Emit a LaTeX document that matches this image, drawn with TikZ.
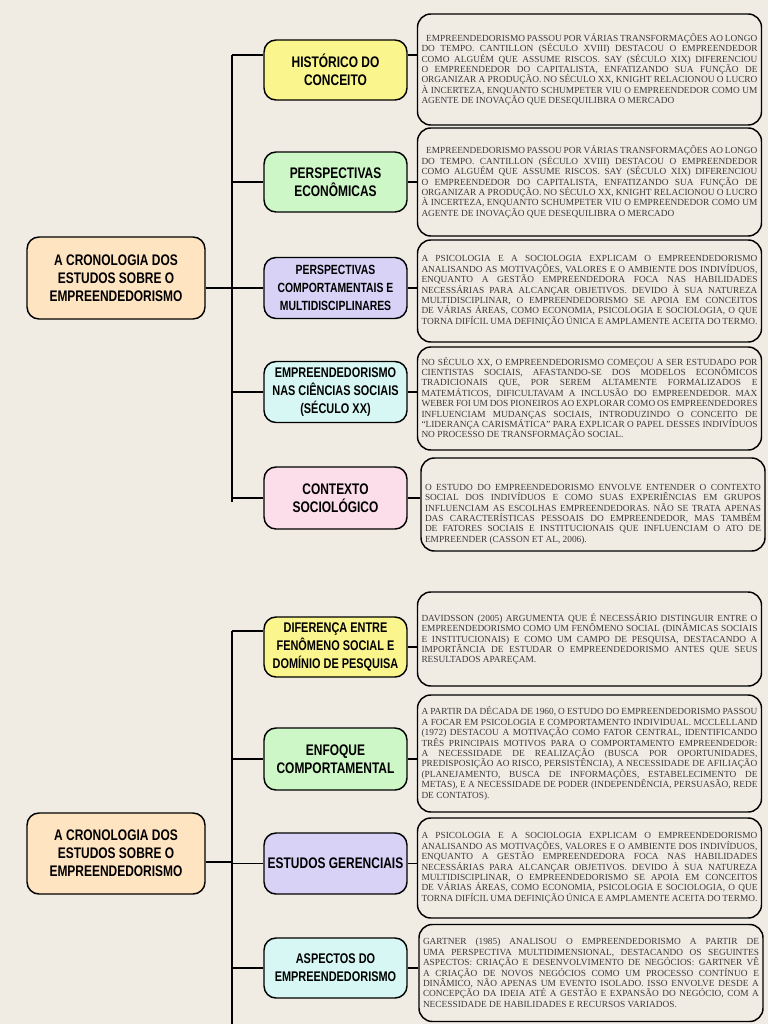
\documentclass[tikz,border=0pt]{standalone}
\usepackage{fontspec}
\setmainfont{Liberation Serif}
\newfontfamily\headfont[FakeStretch=0.78]{Liberation Sans}
\definecolor{bgc}{HTML}{F0ECE4}
\definecolor{cyel}{HTML}{FBF58E}
\definecolor{cgrn}{HTML}{CDF7C6}
\definecolor{clav}{HTML}{D9D2F7}
\definecolor{ccya}{HTML}{D6F7F3}
\definecolor{cpnk}{HTML}{FCDDEA}
\definecolor{cpch}{HTML}{FFE4C2}
\definecolor{txt}{HTML}{3A3A3A}
\tikzset{
 cat/.style={draw=black,line width=1.1pt,rounded corners=9pt,align=center,font=\headfont\bfseries\fontsize{11.5}{13.5}\selectfont,inner sep=2pt},
 tbox/.style={draw=black,line width=1.1pt,rounded corners=10pt,text width=252pt,align=justify,font=\fontsize{7}{7.8}\selectfont,text=txt,inner sep=3pt},
 conn/.style={line width=1.1pt}
}
\newcommand{\catbox}[6]{\node[cat,fill=#1,minimum width=#4*0.75pt,minimum height=#5*0.75pt] (#2) at (#3) {#6};}
\begin{document}
\hyphenpenalty=10000 \exhyphenpenalty=10000
\begin{tikzpicture}[x=0.75pt,y=-0.75pt]
\fill[bgc] (0,0) rectangle (768,1024);
\useasboundingbox (0,0) rectangle (768,1024);
% ---------- top
\catbox{cpch}{r1}{116,278}{178}{82}{A CRONOLOGIA DOS\\ESTUDOS SOBRE O\\EMPREENDEDORISMO}
\catbox{cyel}{a1}{335.5,70}{143}{60}{HISTÓRICO DO\\CONCEITO}
\catbox{cgrn}{a2}{335.5,182}{143}{60}{PERSPECTIVAS\\ECONÔMICAS}
\catbox{clav}{a3}{335.5,288}{143}{61}{\fontsize{10}{11.5}\selectfont PERSPECTIVAS\\\fontsize{10}{11.5}\selectfont COMPORTAMENTAIS E\\\fontsize{10}{11.5}\selectfont MULTIDISCIPLINARES}
\catbox{ccya}{a4}{335.5,392}{143}{61}{\fontsize{10.5}{12}\selectfont EMPREENDEDORISMO\\\fontsize{10.5}{12}\selectfont NAS CIÊNCIAS SOCIAIS\\\fontsize{10.5}{12}\selectfont (SÉCULO XX)}
\catbox{cpnk}{a5}{335.5,498}{143}{62}{CONTEXTO\\SOCIOLÓGICO}

\node[tbox,minimum height=111*0.75pt] (t1) at (589.5,69.5) {\hspace*{0.5em}EMPREENDEDORISMO PASSOU POR VÁRIAS TRANSFORMAÇÕES AO LONGO DO TEMPO. CANTILLON (SÉCULO XVIII) DESTACOU O EMPREENDEDOR COMO ALGUÉM QUE ASSUME RISCOS. SAY (SÉCULO XIX) DIFERENCIOU O EMPREENDEDOR DO CAPITALISTA, ENFATIZANDO SUA FUNÇÃO DE ORGANIZAR A PRODUÇÃO. NO SÉCULO XX, KNIGHT RELACIONOU O LUCRO À INCERTEZA, ENQUANTO SCHUMPETER VIU O EMPREENDEDOR COMO UM AGENTE DE INOVAÇÃO QUE DESEQUILIBRA O MERCADO};
\node[tbox,minimum height=108*0.75pt] (t2) at (589.5,182) {\hspace*{0.5em}EMPREENDEDORISMO PASSOU POR VÁRIAS TRANSFORMAÇÕES AO LONGO DO TEMPO. CANTILLON (SÉCULO XVIII) DESTACOU O EMPREENDEDOR COMO ALGUÉM QUE ASSUME RISCOS. SAY (SÉCULO XIX) DIFERENCIOU O EMPREENDEDOR DO CAPITALISTA, ENFATIZANDO SUA FUNÇÃO DE ORGANIZAR A PRODUÇÃO. NO SÉCULO XX, KNIGHT RELACIONOU O LUCRO À INCERTEZA, ENQUANTO SCHUMPETER VIU O EMPREENDEDOR COMO UM AGENTE DE INOVAÇÃO QUE DESEQUILIBRA O MERCADO};
\node[tbox,minimum height=102*0.75pt] (t3) at (589.5,291) {A PSICOLOGIA E A SOCIOLOGIA EXPLICAM O EMPREENDEDORISMO ANALISANDO AS MOTIVAÇÕES, VALORES E O AMBIENTE DOS INDIVÍDUOS, ENQUANTO A GESTÃO EMPREENDEDORA FOCA NAS HABILIDADES NECESSÁRIAS PARA ALCANÇAR OBJETIVOS. DEVIDO À SUA NATUREZA MULTIDISCIPLINAR, O EMPREENDEDORISMO SE APOIA EM CONCEITOS DE VÁRIAS ÁREAS, COMO ECONOMIA, PSICOLOGIA E SOCIOLOGIA, O QUE TORNA DIFÍCIL UMA DEFINIÇÃO ÚNICA E AMPLAMENTE ACEITA DO TERMO.};
\node[tbox,minimum height=103*0.75pt] (t4) at (589.5,398.5) {NO SÉCULO XX, O EMPREENDEDORISMO COMEÇOU A SER ESTUDADO POR CIENTISTAS SOCIAIS, AFASTANDO-SE DOS MODELOS ECONÔMICOS TRADICIONAIS QUE, POR SEREM ALTAMENTE FORMALIZADOS E MATEMÁTICOS, DIFICULTAVAM A INCLUSÃO DO EMPREENDEDOR. MAX WEBER FOI UM DOS PIONEIROS AO EXPLORAR COMO OS EMPREENDEDORES INFLUENCIAM MUDANÇAS SOCIAIS, INTRODUZINDO O CONCEITO DE “LIDERANÇA CARISMÁTICA” PARA EXPLICAR O PAPEL DESSES INDIVÍDUOS NO PROCESSO DE TRANSFORMAÇÃO SOCIAL.};
\node[tbox,minimum height=93*0.75pt,text depth=26pt] (t5) at (593,504.5) {O ESTUDO DO EMPREENDEDORISMO ENVOLVE ENTENDER O CONTEXTO SOCIAL DOS INDIVÍDUOS E COMO SUAS EXPERIÊNCIAS EM GRUPOS INFLUENCIAM AS ESCOLHAS EMPREENDEDORAS. NÃO SE TRATA APENAS DAS CARACTERÍSTICAS PESSOAIS DO EMPREENDEDOR, MAS TAMBÉM DE FATORES SOCIAIS E INSTITUCIONAIS QUE INFLUENCIAM O ATO DE EMPREENDER (CASSON ET AL, 2006).};

\coordinate (k1) at (232,55);
\coordinate (k5) at (232,502);
\draw[conn] (k1) -- (k5);
\draw[conn] (r1.east |- 0,288) -- (232,288);
\draw[conn] (k1) -- (a1.west |- k1);
\foreach \n in {a2,a3,a4,a5} \draw[conn] (232,0 |- \n.west) -- (\n.west);
\draw[conn] (a1.east |- 0,55) -- (t1.west |- 0,55);
\draw[conn] (a2.east) -- (t2.west |- a2.east);
\draw[conn] (a3.east) -- (t3.west |- a3.east);
\draw[conn] (a4.east) -- (t4.west |- a4.east);
\draw[conn] (a5.east) -- (t5.west |- a5.east);

% ---------- bottom
\catbox{cpch}{r2}{116,853.5}{178}{81}{A CRONOLOGIA DOS\\ESTUDOS SOBRE O\\EMPREENDEDORISMO}
\catbox{cyel}{b1}{335.5,647}{143}{60}{\fontsize{10.5}{12}\selectfont DIFERENÇA ENTRE\\\fontsize{10.5}{12}\selectfont FENÔMENO SOCIAL E\\\fontsize{10.5}{12}\selectfont DOMÍNIO DE PESQUISA}
\catbox{cgrn}{b2}{335.5,759}{143}{62}{ENFOQUE\\COMPORTAMENTAL}
\catbox{clav}{b3}{335.5,863.5}{143}{61}{ESTUDOS GERENCIAIS}
\catbox{ccya}{b4}{335.5,968}{143}{60}{\fontsize{10.5}{12}\selectfont ASPECTOS DO\\\fontsize{10.5}{12}\selectfont EMPREENDEDORISMO}

\node[tbox,minimum height=94*0.75pt] (u1) at (589.5,639) {DAVIDSSON (2005) ARGUMENTA QUE É NECESSÁRIO DISTINGUIR ENTRE O EMPREENDEDORISMO COMO UM FENÔMENO SOCIAL (DINÂMICAS SOCIAIS E INSTITUCIONAIS) E COMO UM CAMPO DE PESQUISA, DESTACANDO A IMPORTÂNCIA DE ESTUDAR O EMPREENDEDORISMO ANTES QUE SEUS RESULTADOS APAREÇAM.};
\node[tbox,minimum height=117*0.75pt] (u2) at (589.5,753.5) {A PARTIR DA DÉCADA DE 1960, O ESTUDO DO EMPREENDEDORISMO PASSOU A FOCAR EM PSICOLOGIA E COMPORTAMENTO INDIVIDUAL. MCCLELLAND (1972) DESTACOU A MOTIVAÇÃO COMO FATOR CENTRAL, IDENTIFICANDO TRÊS PRINCIPAIS MOTIVOS PARA O COMPORTAMENTO EMPREENDEDOR: A NECESSIDADE DE REALIZAÇÃO (BUSCA POR OPORTUNIDADES, PREDISPOSIÇÃO AO RISCO, PERSISTÊNCIA), A NECESSIDADE DE AFILIAÇÃO (PLANEJAMENTO, BUSCA DE INFORMAÇÕES, ESTABELECIMENTO DE METAS), E A NECESSIDADE DE PODER (INDEPENDÊNCIA, PERSUASÃO, REDE DE CONTATOS).};
\node[tbox,minimum height=100*0.75pt] (u3) at (589.5,868) {A PSICOLOGIA E A SOCIOLOGIA EXPLICAM O EMPREENDEDORISMO ANALISANDO AS MOTIVAÇÕES, VALORES E O AMBIENTE DOS INDIVÍDUOS, ENQUANTO A GESTÃO EMPREENDEDORA FOCA NAS HABILIDADES NECESSÁRIAS PARA ALCANÇAR OBJETIVOS. DEVIDO À SUA NATUREZA MULTIDISCIPLINAR, O EMPREENDEDORISMO SE APOIA EM CONCEITOS DE VÁRIAS ÁREAS, COMO ECONOMIA, PSICOLOGIA E SOCIOLOGIA, O QUE TORNA DIFÍCIL UMA DEFINIÇÃO ÚNICA E AMPLAMENTE ACEITA DO TERMO.};
\node[tbox,minimum height=97*0.75pt] (u4) at (591,973) {GARTNER (1985) ANALISOU O EMPREENDEDORISMO A PARTIR DE UMA PERSPECTIVA MULTIDIMENSIONAL, DESTACANDO OS SEGUINTES ASPECTOS: CRIAÇÃO E DESENVOLVIMENTO DE NEGÓCIOS: GARTNER VÊ A CRIAÇÃO DE NOVOS NEGÓCIOS COMO UM PROCESSO CONTÍNUO E DINÂMICO, NÃO APENAS UM EVENTO ISOLADO. ISSO ENVOLVE DESDE A CONCEPÇÃO DA IDEIA ATÉ A GESTÃO E EXPANSÃO DO NEGÓCIO, COM A NECESSIDADE DE HABILIDADES E RECURSOS VARIADOS.};

\coordinate (m1) at (232,631);
\coordinate (m2) at (232,1024);
\draw[conn] (m1) -- (m2);
\draw[conn] (r2.east |- 0,862) -- (232,862);
\draw[conn] (m1) -- (b1.west |- m1);
\foreach \n in {b2,b3,b4} \draw[conn] (232,0 |- \n.west) -- (\n.west);
\draw[conn] (b1.east) -- (u1.west |- b1.east);
\draw[conn] (b2.east) -- (u2.west |- b2.east);
\draw[conn] (b3.east) -- (u3.west |- b3.east);
\draw[conn] (b4.east) -- (u4.west |- b4.east);
\end{tikzpicture}
\end{document}
